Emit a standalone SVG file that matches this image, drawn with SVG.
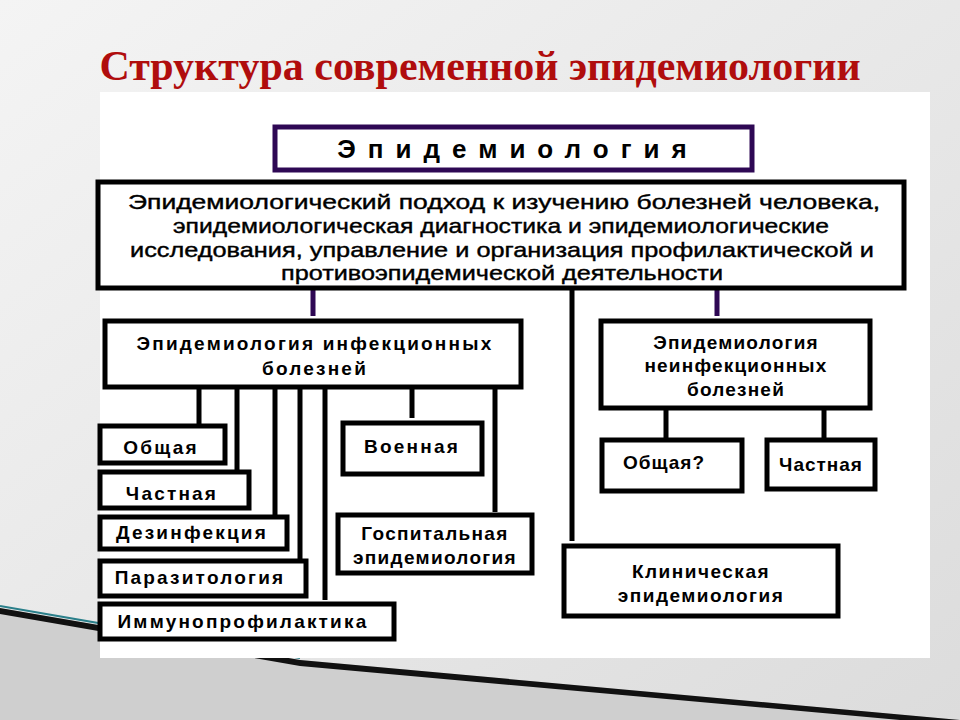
<svg xmlns="http://www.w3.org/2000/svg" width="960" height="720" viewBox="0 0 960 720">
<defs>
<linearGradient id="bg" x1="0" y1="0" x2="1" y2="1"><stop offset="0" stop-color="#f4f4f4"/><stop offset="1" stop-color="#dcdcdc"/></linearGradient>
<style>
.b{fill:#fff;stroke:#000;stroke-width:5}
.t{font-family:"Liberation Sans",Arial,sans-serif;font-weight:bold;font-size:19px;letter-spacing:2.2px;fill:#000;text-anchor:middle}
.m{font-family:"Liberation Sans",Arial,sans-serif;font-weight:bold;font-size:19px;fill:#000;text-anchor:middle}
.n{font-family:"Liberation Sans",Arial,sans-serif;font-size:21px;fill:#000;stroke:#000;stroke-width:0.4;text-anchor:middle}
.c{stroke:#000;stroke-width:5;fill:none}
.p{stroke:#2e0854;stroke-width:5;fill:none}
</style>
</defs>
<rect width="960" height="720" fill="url(#bg)"/>
<path d="M0,608 L300,660 L960,720 L0,720 Z" fill="#cfcfcf"/>
<path d="M0,608 L300,660 L960,720 L900,720 L300,666 L0,614 Z" fill="#111"/>
<path d="M0,606 L300,658" stroke="#2a7f8a" stroke-width="2"/>
<rect x="100" y="92" width="830" height="566" fill="#fff"/>
<text x="480" y="80" text-anchor="middle" font-family="Liberation Serif,serif" font-weight="bold" font-size="42" fill="#b00d0d">Структура современной эпидемиологии</text>
<g id="connectors">
<path class="p" d="M313,288V316M717,288V316"/>
<path class="c" d="M572,288V541M199,387V428M237,387V474M275,387V516M300,387V560M325,387V600M412,387V418M495,387V512M666,408V442M824,408V442"/>
</g>
<g id="n-epi"><rect x="275" y="127" width="477" height="43" fill="#fff" stroke="#2e0854" stroke-width="5"/><text x="518" y="158" class="m" style="font-size:26px;letter-spacing:12px">Эпидемиология</text></g>
<g id="n-main"><rect class="b" x="98" y="182" width="806" height="106" stroke-width="6"/>
<text class="n"><tspan x="504" y="209" textLength="752" lengthAdjust="spacingAndGlyphs">Эпидемиологический подход к изучению болезней человека,</tspan><tspan x="501" y="233" textLength="656" lengthAdjust="spacingAndGlyphs">эпидемиологическая диагностика и эпидемиологические</tspan><tspan x="502" y="257" textLength="744" lengthAdjust="spacingAndGlyphs">исследования, управление и организация профилактической и</tspan><tspan x="502" y="280" textLength="442" lengthAdjust="spacingAndGlyphs">противоэпидемической деятельности</tspan></text></g>
<g id="n-inf"><rect class="b" x="105" y="321" width="416" height="66" stroke-width="6"/><text class="t"><tspan x="315" y="350">Эпидемиология инфекционных</tspan><tspan x="315" y="375">болезней</tspan></text></g>
<g id="n-noninf"><rect class="b" x="601" y="321" width="269" height="87" stroke-width="6"/><text class="t" style="letter-spacing:1.2px"><tspan x="736" y="349">Эпидемиология</tspan><tspan x="736" y="372">неинфекционных</tspan><tspan x="736" y="396">болезней</tspan></text></g>
<g id="n-ob"><rect class="b" x="100" y="426" width="125" height="37"/><text class="t" x="161" y="454">Общая</text></g>
<g id="n-ch"><rect class="b" x="100" y="472" width="149" height="36"/><text class="t" x="172" y="500">Частная</text></g>
<g id="n-dez"><rect class="b" x="100" y="517" width="187" height="32"/><text class="t" x="192" y="539">Дезинфекция</text></g>
<g id="n-par"><rect class="b" x="100" y="561" width="206" height="35"/><text class="t" x="200" y="584">Паразитология</text></g>
<g id="n-imm"><rect class="b" x="100" y="604" width="294" height="35"/><text class="t" x="243" y="628">Иммунопрофилактика</text></g>
<g id="n-voen"><rect class="b" x="343" y="423" width="139" height="51"/><text class="t" x="412" y="453">Военная</text></g>
<g id="n-gosp"><rect class="b" x="338" y="515" width="194" height="58"/><text class="t" style="letter-spacing:1.3px"><tspan x="435" y="540">Госпитальная</tspan><tspan x="435" y="564">эпидемиология</tspan></text></g>
<g id="n-ob2"><rect class="b" x="602" y="440" width="140" height="51"/><text class="t" style="letter-spacing:1px" x="664" y="469">Общая?</text></g>
<g id="n-ch2"><rect class="b" x="767" y="440" width="108" height="49"/><text class="t" style="letter-spacing:1px" x="821" y="471">Частная</text></g>
<g id="n-klin"><rect class="b" x="564" y="546" width="274" height="70" stroke-width="6"/><text class="t" style="letter-spacing:1.5px"><tspan x="701" y="578">Клиническая</tspan><tspan x="701" y="602">эпидемиология</tspan></text></g>
</svg>
